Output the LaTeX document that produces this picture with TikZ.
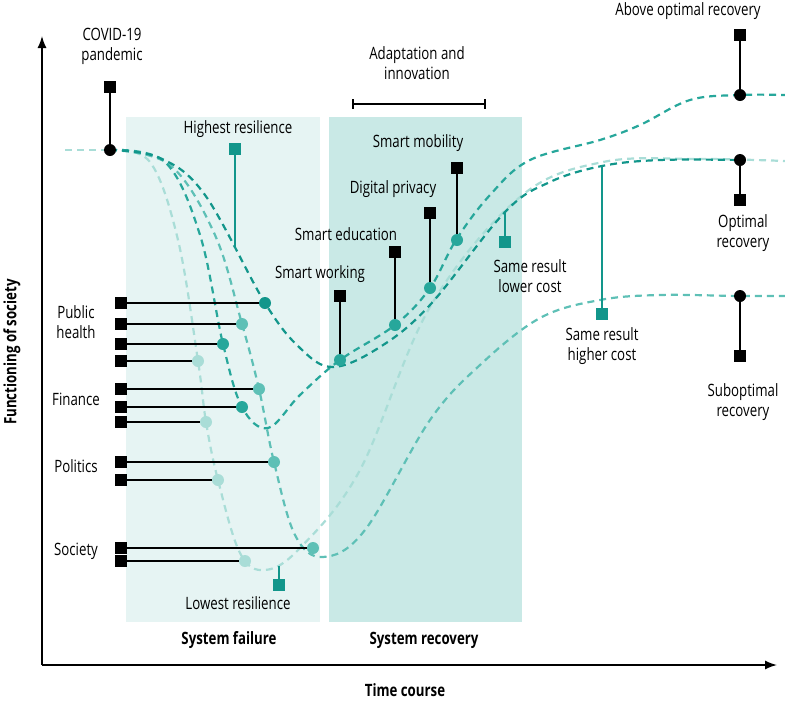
\documentclass[tikz,border=0pt]{standalone}
\usepackage{fontspec}
\setmainfont{Open Sans}[FakeStretch=0.78]
\usetikzlibrary{arrows.meta}
\begin{document}
\begin{tikzpicture}[x=1pt,y=-1pt,
  lab/.style={font=\fontsize{17}{20}\selectfont,align=center,inner sep=0},
  bold/.style={font=\fontsize{17}{20}\selectfont\bfseries,inner sep=0},
  sq/.style={fill=black,minimum size=12pt,inner sep=0},
  tsq/.style={fill=cA,minimum size=12pt,inner sep=0},
  dot/.style={circle,fill=#1,minimum size=12pt,inner sep=0},
  crv/.style={#1,line width=2.2pt,dash pattern=on 7pt off 5pt},
  stem/.style={line width=1.3pt}]
\definecolor{cA}{HTML}{12968B}
\definecolor{cB}{HTML}{27A79B}
\definecolor{cC}{HTML}{5EC0B6}
\definecolor{cD}{HTML}{A9DDD7}
\definecolor{bgA}{HTML}{E6F4F3}
\definecolor{bgB}{HTML}{C9E9E6}
\useasboundingbox (0,0) rectangle (785,702);
\fill[bgA] (126,117) rectangle (320,622);
\fill[bgB] (329,117) rectangle (522,622);
% axes
\draw[line width=1.5pt,-{Latex[length=12pt,width=9pt]}] (42,665) -- (42,36);
\draw[line width=1.5pt,-{Latex[length=12pt,width=9pt]}] (42,665) -- (777,665);
\node[bold,rotate=90] (ylab) at (12,352) {Functioning of society};
\node[bold] (xlab) at (405,690) {Time course};
\node[bold] (sf) at (229,640) {System failure};
\node[bold] (sr) at (424,640) {System recovery};
% curves
\draw[crv=cD] (65,150) -- (110,150);
\draw[crv=cD] plot[smooth,tension=0.6] coordinates {(110,150)(150,162)(178,240)(198,361)(206,422)(218,480)(240,553)(265,570)(300,548)(360,470)(430,307)(520,197)(603,162)(700,159)(785,161)};
\draw[crv=cC] plot[smooth,tension=0.6] coordinates {(110,150)(170,165)(215,235)(242,324)(259,389)(274,462)(295,535)(323,557)(365,530)(430,420)(480,365)(540,318)(600,300)(660,295)(740,296)(785,296)};
\draw[crv=cB] plot[smooth,tension=0.6] coordinates {(110,150)(165,162)(200,235)(223,344)(242,407)(268,428)(300,395)(340,360)(395,325)(430,288)(456,240)(490,195)(530,160)(600,140)(640,125)(690,100)(740,95)(785,95)};
\draw[crv=cA] plot[smooth,tension=0.6] coordinates {(110,150)(160,158)(205,195)(265,303)(300,348)(333,367)(380,347)(430,305)(505,212)(550,182)(602,166)(660,160)(740,160)};
% start
\node[dot=black] (d0) at (110,150) {};
\node[sq] (s0) at (110,87) {};
\draw[stem] (s0) -- (d0);
\node[lab] (t0) at (112,46) {COVID-19\\pandemic};
% left markers
\foreach \n/\y/\x/\c in {a/303/265/cA,b/324/242/cC,c/344/223/cB,d/361/198/cD,e/389/259/cC,f/407/242/cB,g/422/206/cD,h/462/274/cC,i/480/218/cD,j/548/313/cC,k/561/245/cD}{
  \node[sq] (ls\n) at (121,\y) {};
  \node[dot=\c] (ld\n) at (\x,\y) {};
  \draw[stem] (ls\n) -- (ld\n);
}
\node[lab] (ph) at (76,322) {Public\\health};
\node[lab] (fi) at (76,399) {Finance};
\node[lab] (po) at (76,466) {Politics};
\node[lab] (so) at (76,551) {Society};
% resilience
\node[tsq] (hs) at (235,149) {};
\coordinate (hc) at (235,247);
\draw[stem,cA] (hs) -- (hc);
\node[lab] (ht) at (238,129) {Highest resilience};
\node[tsq] (lsq) at (279,585) {};
\coordinate (lc) at (279,566);
\draw[stem,cA] (lsq) -- (lc);
\node[lab] (lt) at (238,603) {Lowest resilience};
% innovations
\foreach \n/\x/\ys/\yd/\c in {w/340/296/360/cB,e/395/252/325/cB,p/430/213/288/cB,m/457/168/240/cB}{
  \node[sq] (is\n) at (\x,\ys) {};
  \node[dot=\c] (id\n) at (\x,\yd) {};
  \draw[stem] (is\n) -- (id\n);
}
\node[lab] (tw) at (320,274) {Smart working};
\node[lab] (te) at (346,234) {Smart education};
\node[lab] (tp) at (393,189) {Digital privacy};
\node[lab] (tm) at (418,143) {Smart mobility};
\node[lab] (ai) at (417,63) {Adaptation and\\innovation};
\coordinate (b1) at (353,104); \coordinate (b2) at (485,104);
\draw[stem] (b1) -- (b2);
\draw[stem] (353,99) -- (353,109);
\draw[stem] (485,99) -- (485,109);
% outcomes
\node[dot=black] (ao) at (740,95) {};
\node[sq] (aos) at (740,35) {};
\draw[stem] (aos) -- (ao);
\node[lab] (aot) at (688,11) {Above optimal recovery};
\node[dot=black] (oo) at (740,160) {};
\node[sq] (oos) at (740,200) {};
\draw[stem] (oos) -- (oo);
\node[lab] (oot) at (743,233) {Optimal\\recovery};
\node[dot=black] (su) at (740,296) {};
\node[sq] (sus) at (740,356) {};
\draw[stem] (sus) -- (su);
\node[lab] (sut) at (743,402) {Suboptimal\\recovery};
\node[tsq] (lcs) at (505,242) {};
\coordinate (lcc) at (505,212);
\draw[stem,cA] (lcs) -- (lcc);
\node[lab] (lct) at (530,276) {Same result\\lower cost};
\node[tsq] (hcs) at (602,314) {};
\coordinate (hcc) at (602,166);
\draw[stem,cA] (hcs) -- (hcc);
\node[lab] (hct) at (602,346) {Same result\\higher cost};
\end{tikzpicture}
\end{document}
